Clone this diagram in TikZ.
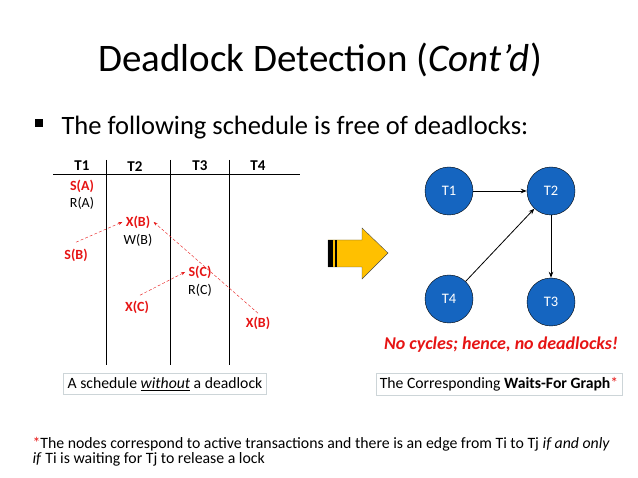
\documentclass[tikz,border=0pt]{standalone}
\usepackage{fontspec}
\setmainfont{Carlito}
\usetikzlibrary{arrows.meta}
\definecolor{rd}{RGB}{230,20,20}
\definecolor{bl}{RGB}{21,101,192}
\definecolor{yl}{RGB}{255,192,0}
\begin{document}
\begin{tikzpicture}[x=1pt,y=-1pt,
 hd/.style={font=\fontsize{15}{17}\selectfont\bfseries},
 op/.style={font=\fontsize{14}{16}\selectfont},
 rop/.style={op,text=rd,font=\fontsize{14}{16}\selectfont\bfseries},
 dep/.style={rd,densely dashed,-{Stealth[length=4pt]}},
 tx/.style={circle,draw=black,fill=bl,minimum size=48pt,inner sep=0pt,text=white,font=\fontsize{14.5}{16}\selectfont},
 ed/.style={-{Stealth[length=6pt]},thick},
 box/.style={draw=cyan!15!gray!40,inner sep=4pt,font=\fontsize{15.7}{18}\selectfont}]
\useasboundingbox (0,0) rectangle (638,478);
\node (title) at (320,60) {\fontsize{39}{44}\selectfont Deadlock Detection (\textit{Cont'd})};
\node[fill=black,minimum size=8pt,inner sep=0pt] (bul) at (39,123) {};
\node[anchor=west] (intro) at (58,128) {\fontsize{26.5}{30}\selectfont The following schedule is free of deadlocks:};
% table
\node[hd] (h1) at (82,166) {T1};
\node[hd] (h2) at (135,167) {T2};
\node[hd] (h3) at (200,166) {T3};
\node[hd] (h4) at (258,166) {T4};
\coordinate (hl) at (53,174); \coordinate (hr) at (300,174);
\draw (hl) -- (hr);
\foreach \x/\n in {106/a,170/b,229/c}{\coordinate (t\n) at (\x,160); \coordinate (b\n) at (\x,365); \draw (t\n) -- (b\n);}
\node[rop] (sa) at (82,186) {S(A)};
\node[op] (ra) at (82,203) {R(A)};
\node[rop] (xb) at (138,222) {X(B)};
\node[op] (wb) at (138,240) {W(B)};
\node[rop] (sb) at (76,255) {S(B)};
\node[rop] (sc) at (200,272) {S(C)};
\node[op] (rc) at (200,290) {R(C)};
\node[rop] (xc) at (137,307) {X(C)};
\node[rop] (xb4) at (258,323) {X(B)};
\draw[dep] (sb.north) ++(0,-3) -- (xb.west);
\draw[dep] (xc.north) ++(3,-2) -- (sc.west);
\draw[dep] (xb4.north) -- (xb.east);
\node[box] (cap1) at (165,384) {A schedule \underline{\textit{without}} a deadlock};
% yellow arrow
\draw[fill=yl,draw=black!70] (328,240) -- (362,240) -- (362,228) -- (388,253) -- (362,279) -- (362,267) -- (328,267) -- cycle;
\fill[black] (328,240) rectangle (333,267);
\fill[black] (335,240) rectangle (337,267);
% graph
\node[tx] (T1) at (449,191) {T1};
\node[tx] (T2) at (551,191) {T2};
\node[tx] (T4) at (449,299) {T4};
\node[tx] (T3) at (551,302) {T3};
\draw[ed] (T1) -- (T2);
\draw[ed] (T4) -- (T2);
\draw[ed] (T2) -- (T3);
\node[text=rd] (nc) at (501,345) {\fontsize{18}{21}\selectfont\bfseries\itshape No cycles; hence, no deadlocks!};
\node[box] (cap2) at (499,384) {The Corresponding \textbf{Waits-For Graph}\textcolor{rd}{*}};
\node[anchor=west,align=left] (foot) at (29,452) {\fontsize{15.8}{22}\selectfont\textcolor{rd}{*}The nodes correspond to active transactions and there is an edge from Ti to Tj \textit{if and only}\\\fontsize{15.8}{22}\selectfont\textit{if} Ti is waiting for Tj to release a lock};
\end{tikzpicture}
\end{document}
